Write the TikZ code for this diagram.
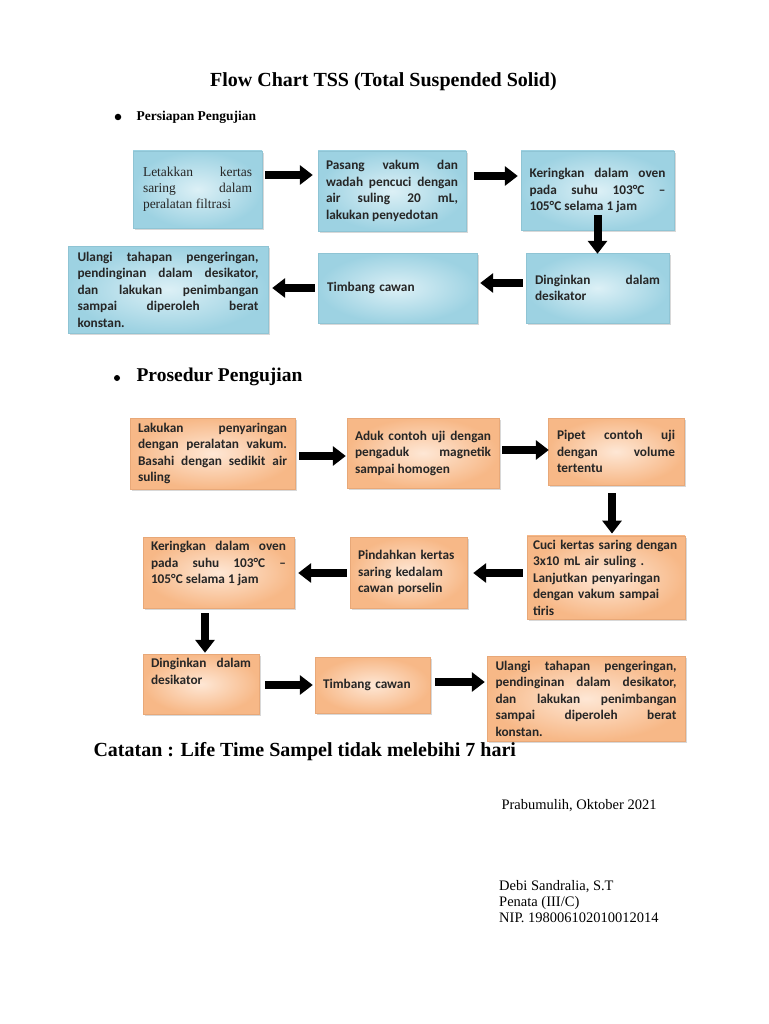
\documentclass[tikz,border=0pt]{standalone}
\usepackage{fontspec}
\setmainfont{Liberation Serif}
\newfontfamily\boxfont{Carlito}
\usetikzlibrary{shadows,arrows.meta}

\definecolor{blueDark}{HTML}{9DD2E2}
\definecolor{blueLight}{HTML}{DCF0F6}
\definecolor{blueEdge}{HTML}{8FC4D4}
\definecolor{orangeDark}{HTML}{F7B887}
\definecolor{orangeLight}{HTML}{FEE7D5}
\definecolor{orangeEdge}{HTML}{E8A878}

\newcommand\boxtext{\boxfont\bfseries\fontsize{13.3}{16.5}\selectfont
  \hyphenpenalty=10000 \exhyphenpenalty=10000 \tolerance=10000 \hbadness=10000 }

\tikzset{
  stepbox/.style={line width=0.4pt, inner xsep=8, inner ysep=4, align=justify,
    font=\boxtext, text=black!85,
    drop shadow={shadow xshift=2pt, shadow yshift=-2pt, opacity=0.3}},
  bluebox/.style={stepbox, draw=blueEdge, inner color=blueLight, outer color=blueDark},
  orangebox/.style={stepbox, draw=orangeEdge, inner color=orangeLight, outer color=orangeDark},
  flowarrow/.style={draw=black, line width=8pt, -{Triangle[length=13pt,width=19pt]}},
}

\begin{document}
\begin{tikzpicture}[x=1pt, y=-1pt]

\fill[white] (0,0) rectangle (768,1024);
\useasboundingbox (0,0) rectangle (768,1024);

\node[font=\fontsize{20}{24}\selectfont\bfseries] (title) at (383.5,82) {Flow Chart TSS (Total Suspended Solid)};

% -------- Persiapan -----------
\node[circle, fill, inner sep=0, minimum size=6.5] (dot1) at (118,117) {};
\node[anchor=west, font=\fontsize{13.5}{16}\selectfont\bfseries] (prepHead) at (133,117) {Persiapan Pengujian};

\node[bluebox, minimum width=129, minimum height=77, text width=109, inner xsep=10,
      font=\rmfamily\mdseries\fontsize{13.5}{16}\selectfont] (prep1) at (197.5,189.5)
  {Letakkan kertas\linebreak saring dalam\linebreak peralatan filtrasi};
\node[bluebox, minimum width=148, minimum height=80, text width=132] (prep2) at (392,191)
  {Pasang vakum dan\linebreak wadah pencuci dengan\linebreak air suling 20 mL,\linebreak lakukan penyedotan};
\node[bluebox, minimum width=153, minimum height=79, text width=136] (prep3) at (597.5,190.5)
  {Keringkan dalam oven\linebreak pada suhu 103°C –\linebreak 105°C selama 1 jam};
\node[bluebox, minimum width=200, minimum height=87, text width=181] (prep4) at (168,289.5)
  {Ulangi tahapan pengeringan,\linebreak pendinginan dalam desikator,\linebreak dan lakukan penimbangan\linebreak sampai diperoleh berat\linebreak konstan.};
\node[bluebox, minimum width=159, minimum height=70, text width=141, align=left] (prep5) at (397.5,288)
  {Timbang cawan};
\node[bluebox, minimum width=143, minimum height=70, text width=125] (prep6) at (597.5,288)
  {Dinginkan dalam\linebreak desikator};

\draw[flowarrow] ([xshift=3,yshift=14.5]prep1.east) -- ([xshift=-5,yshift=16]prep2.west);
\draw[flowarrow] ([xshift=8,yshift=15]prep2.east) -- ([xshift=-3,yshift=14.5]prep3.west);
\draw[flowarrow] ([yshift=15]prep3.south) -- ([yshift=-1]prep6.north);
\draw[flowarrow] ([xshift=-3,yshift=5]prep6.west) -- ([xshift=3,yshift=5]prep5.east);
\draw[flowarrow] ([xshift=-3]prep5.west) -- ([xshift=4,yshift=1.5]prep4.east);

% -------- Prosedur -----------
\node[circle, fill, inner sep=0, minimum size=6] (dot2) at (117,378) {};
\node[anchor=west, font=\fontsize{19.5}{22}\selectfont\bfseries] (procHead) at (133,377) {Prosedur Pengujian};

\node[orangebox, minimum width=165, minimum height=71, text width=149] (proc1) at (212.5,453.5)
  {Lakukan penyaringan\linebreak dengan peralatan vakum.\linebreak Basahi dengan sedikit air\linebreak suling};
\node[orangebox, minimum width=152, minimum height=70, text width=136] (proc2) at (423,453)
  {Aduk contoh uji dengan\linebreak pengaduk magnetik\linebreak sampai homogen};
\node[orangebox, minimum width=136, minimum height=67, text width=118] (proc3) at (616,451.5)
  {Pipet contoh uji\linebreak dengan volume\linebreak tertentu};
\node[orangebox, minimum width=158, minimum height=83, text width=146, inner xsep=6, align=left] (proc4) at (606,577.5)
  {Cuci kertas saring dengan\\ 3x10 mL air suling .\\ Lanjutkan penyaringan\\ dengan vakum sampai\\ tiris};
\node[orangebox, minimum width=117, minimum height=71, text width=101, align=left] (proc5) at (408.5,572.5)
  {Pindahkan kertas\\ saring kedalam\\ cawan porselin};
\node[orangebox, minimum width=151, minimum height=71, text width=135, text depth=53] (proc6) at (218.5,572.5)
  {Keringkan dalam oven\linebreak pada suhu 103°C –\linebreak 105°C selama 1 jam};
\node[orangebox, minimum width=116, minimum height=60, text width=100, text depth=42] (proc7) at (201,684)
  {Dinginkan dalam\linebreak desikator};
\node[orangebox, minimum width=115, minimum height=56, text width=99, align=left] (proc8) at (372.5,685)
  {Timbang cawan};
\node[orangebox, minimum width=198, minimum height=85, text width=181] (proc9) at (586,698.5)
  {Ulangi tahapan pengeringan,\linebreak pendinginan dalam desikator,\linebreak dan lakukan penimbangan\linebreak sampai diperoleh berat\linebreak konstan.};

\draw[flowarrow] ([xshift=4,yshift=-2.5]proc1.east) -- ([xshift=-1,yshift=-3]proc2.west);
\draw[flowarrow] ([xshift=3,yshift=3]proc2.east) -- ([xshift=1,yshift=1.5]proc3.west);
\draw[flowarrow] ([xshift=-4,yshift=-8]proc3.south) -- ([xshift=6,yshift=2]proc4.north);
\draw[flowarrow] ([xshift=-4,yshift=4.5]proc4.west) -- ([xshift=6,yshift=-0.5]proc5.east);
\draw[flowarrow] ([xshift=-3,yshift=-0.5]proc5.west) -- ([xshift=4,yshift=-0.5]proc6.east);
\draw[flowarrow] ([xshift=-13.5,yshift=-5]proc6.south) -- ([xshift=4,yshift=1]proc7.north);
\draw[flowarrow] ([xshift=6,yshift=-1]proc7.east) -- ([xshift=-2]proc8.west);
\draw[flowarrow] ([xshift=5,yshift=3]proc8.east) -- ([xshift=-2,yshift=16.5]proc9.west);

% -------- Catatan & tanda tangan -----------
\node[anchor=west, font=\fontsize{20}{24}\selectfont\bfseries] (note) at (90,752)
  {Catatan : Life Time Sampel tidak melebihi 7 hari};
\node[anchor=west, font=\fontsize{14.5}{16}\selectfont] (place) at (498,806) {Prabumulih, Oktober 2021};
\node[anchor=north west, align=left, inner sep=0, font=\fontsize{14.5}{16}\selectfont] (sign) at (499,880)
  {Debi Sandralia, S.T\\ Penata (III/C)\\ NIP. 198006102010012014};

\end{tikzpicture}
\end{document}
